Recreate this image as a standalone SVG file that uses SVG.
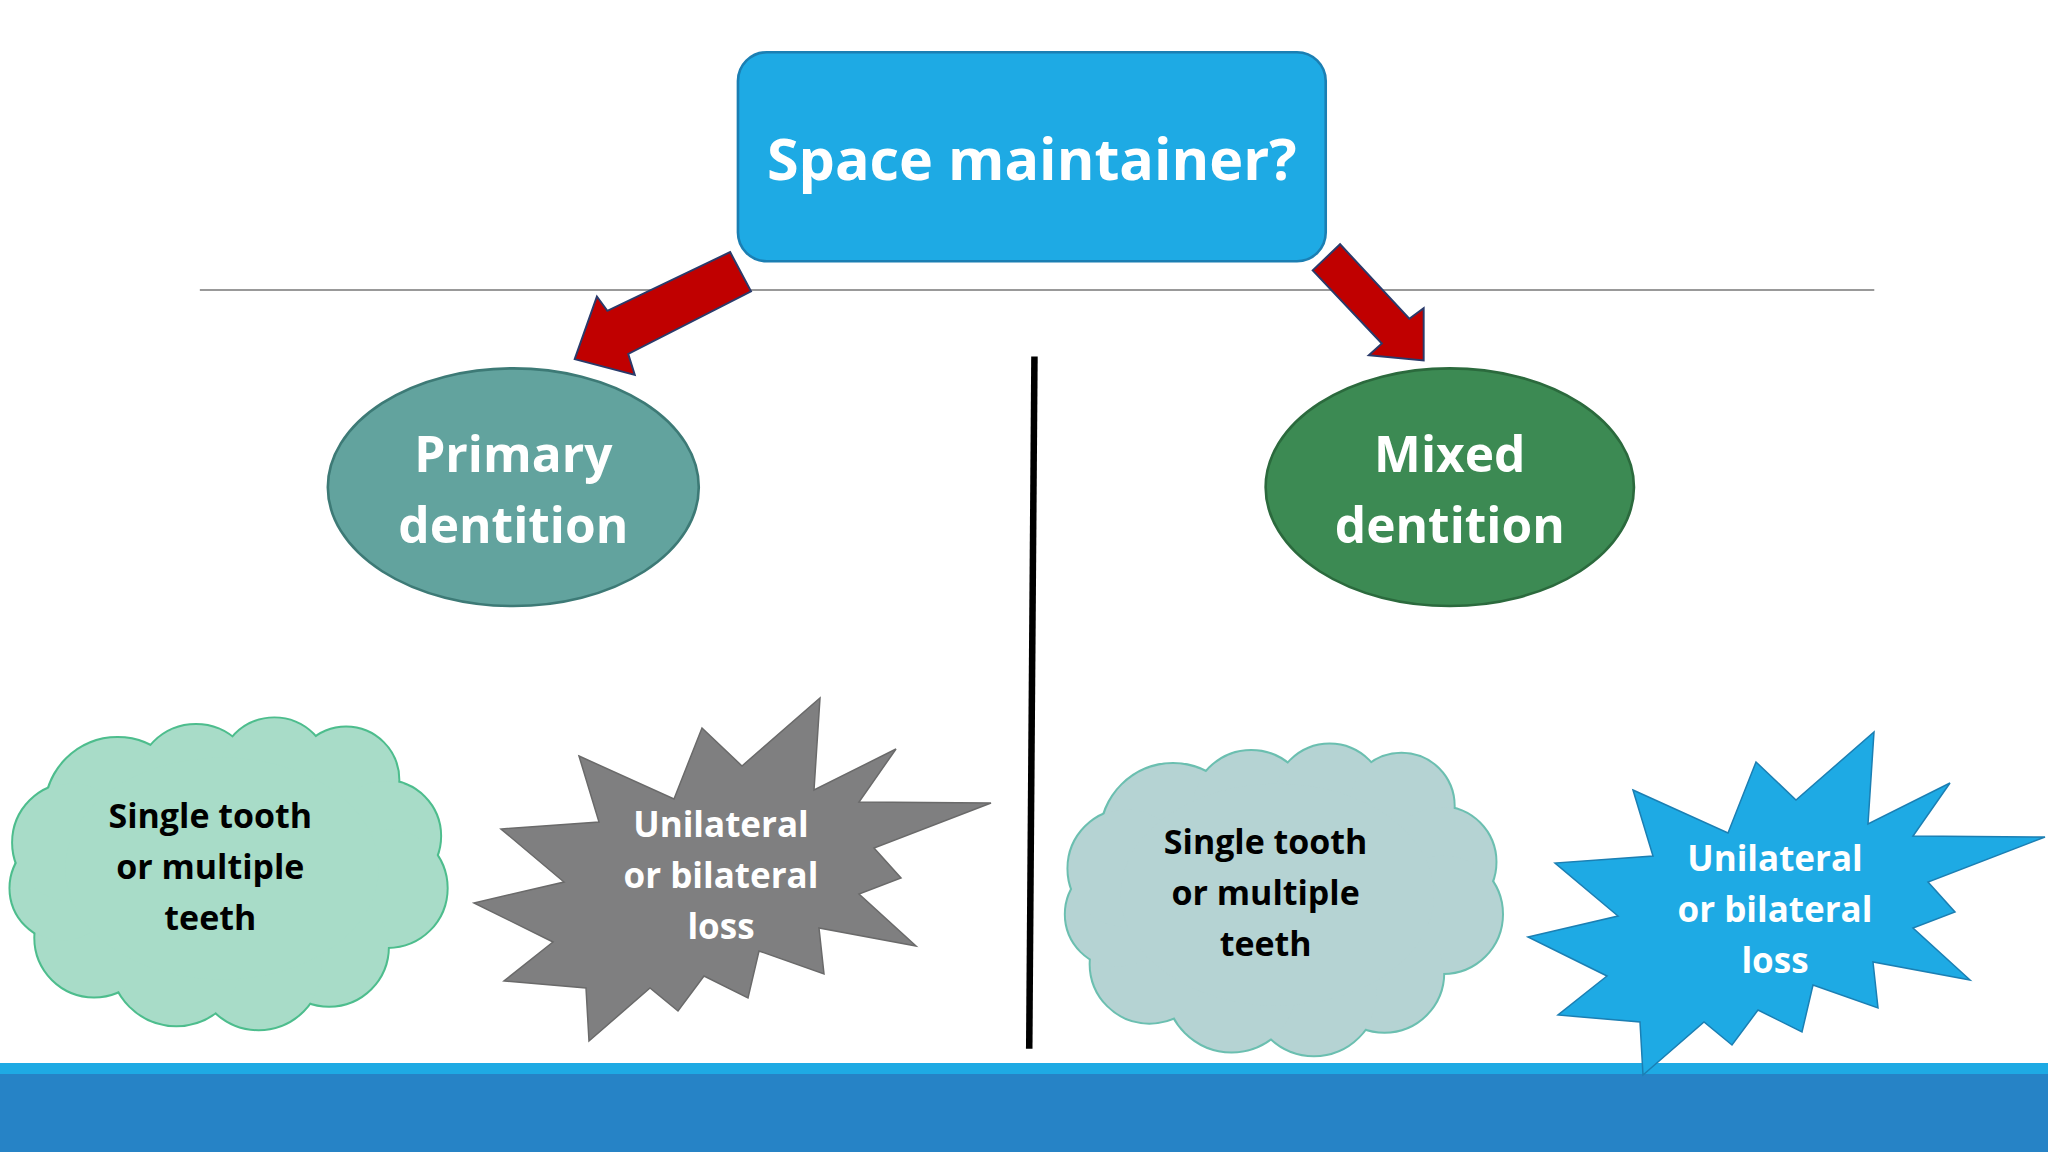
<svg xmlns="http://www.w3.org/2000/svg" width="2048" height="1152" viewBox="0 0 2048 1152">
<style>
.t{font-family:"Open Sans","Noto Sans",sans-serif;font-weight:bold;text-anchor:middle}
.w{fill:#fff}.k{fill:#000}
.arr{fill:#c00000;stroke:#2a3a6a;stroke-width:1.5}
</style>
<defs>
<g id="cloudShape">
<circle cx="90" cy="620" r="55"/><circle cx="150" cy="600" r="45"/><circle cx="210" cy="592" r="42"/><circle cx="265" cy="597" r="40"/><circle cx="295" cy="640" r="42"/><circle cx="297" cy="680" r="45"/><circle cx="252" cy="725" r="45"/><circle cx="198" cy="740" r="48"/><circle cx="135" cy="735" r="50"/><circle cx="72" cy="718" r="45"/><circle cx="48" cy="680" r="40"/><circle cx="55" cy="645" r="45"/><ellipse cx="170" cy="665" rx="120" ry="85"/>
</g>
<polygon id="burst" points="1633,790 1728,833 1756,762 1796,800 1874,732 1868,824 1950,783 1913,836 2045,837 1928,882 1955,912 1913,928 1970,980 1873,962 1878,1008 1813,985 1802,1032 1758,1010 1732,1045 1704,1022 1643,1075 1640,1022 1558,1015 1607,976 1528,937 1618,916 1555,863 1653,856"/>
</defs>
<rect width="2048" height="1152" fill="#fff"/>
<rect x="0" y="1063" width="2048" height="11" fill="#1eaae4"/>
<rect x="0" y="1074" width="2048" height="78" fill="#2683c6"/>
<g transform="scale(1.30612)">
<line x1="153" y1="222" x2="1435" y2="222" stroke="#999" stroke-width="1.5"/>
<line x1="792" y1="273" x2="788" y2="803" stroke="#000" stroke-width="5"/>
<g id="connectors">
<polygon class="arr" points="559,193 575,223 481,271 486,287 440,275 457,227 465,238"/>
<polygon class="arr" points="1005,207 1026,187 1079,244 1090,236 1090,276 1048,272 1058,263"/>
</g>
<g id="title">
<rect x="565" y="40" width="450" height="160" rx="22" fill="#1eaae4" stroke="#1b7fb3" stroke-width="2"/>
<text class="t w" x="790" y="138" font-size="44">Space maintainer?</text>
</g>
<g id="primary">
<ellipse cx="393" cy="373" rx="142" ry="91" fill="#62a39e" stroke="#3d7a76" stroke-width="2"/>
<text class="t w" x="393" y="361" font-size="38">Primary</text>
<text class="t w" x="393" y="416" font-size="38">dentition</text>
</g>
<g id="mixed">
<ellipse cx="1110" cy="373" rx="141" ry="91" fill="#3c8a53" stroke="#2b6a3d" stroke-width="2"/>
<text class="t w" x="1110" y="361" font-size="38">Mixed</text>
<text class="t w" x="1110" y="416" font-size="38">dentition</text>
</g>
<g id="cloudLeft">
<use href="#cloudShape" fill="#a8dcc8" stroke="#4dbd8d" stroke-width="3"/>
<use href="#cloudShape" fill="#a8dcc8"/>
<text class="t k" x="161" y="634" font-size="26">Single tooth</text>
<text class="t k" x="161" y="673" font-size="26">or multiple</text>
<text class="t k" x="161" y="712" font-size="26">teeth</text>
</g>
<g id="cloudRight">
<g transform="translate(808,20)">
<use href="#cloudShape" fill="#b5d3d3" stroke="#6bbfb0" stroke-width="3"/>
<use href="#cloudShape" fill="#b5d3d3"/>
</g>
<text class="t k" x="969" y="654" font-size="26">Single tooth</text>
<text class="t k" x="969" y="693" font-size="26">or multiple</text>
<text class="t k" x="969" y="732" font-size="26">teeth</text>
</g>
</g>
<g id="burstLeft">
<use href="#burst" transform="translate(-1054,-34)" fill="#7f7f80" stroke="#6a6a6a" stroke-width="1.5"/>
<text class="t w" x="721" y="837" font-size="35">Unilateral</text>
<text class="t w" x="721" y="888" font-size="35">or bilateral</text>
<text class="t w" x="721" y="939" font-size="35">loss</text>
</g>
<g id="burstRight">
<use href="#burst" fill="#1eaae4" stroke="#1b7fb3" stroke-width="1.5"/>
<text class="t w" x="1775" y="871" font-size="35">Unilateral</text>
<text class="t w" x="1775" y="922" font-size="35">or bilateral</text>
<text class="t w" x="1775" y="973" font-size="35">loss</text>
</g>
</svg>
